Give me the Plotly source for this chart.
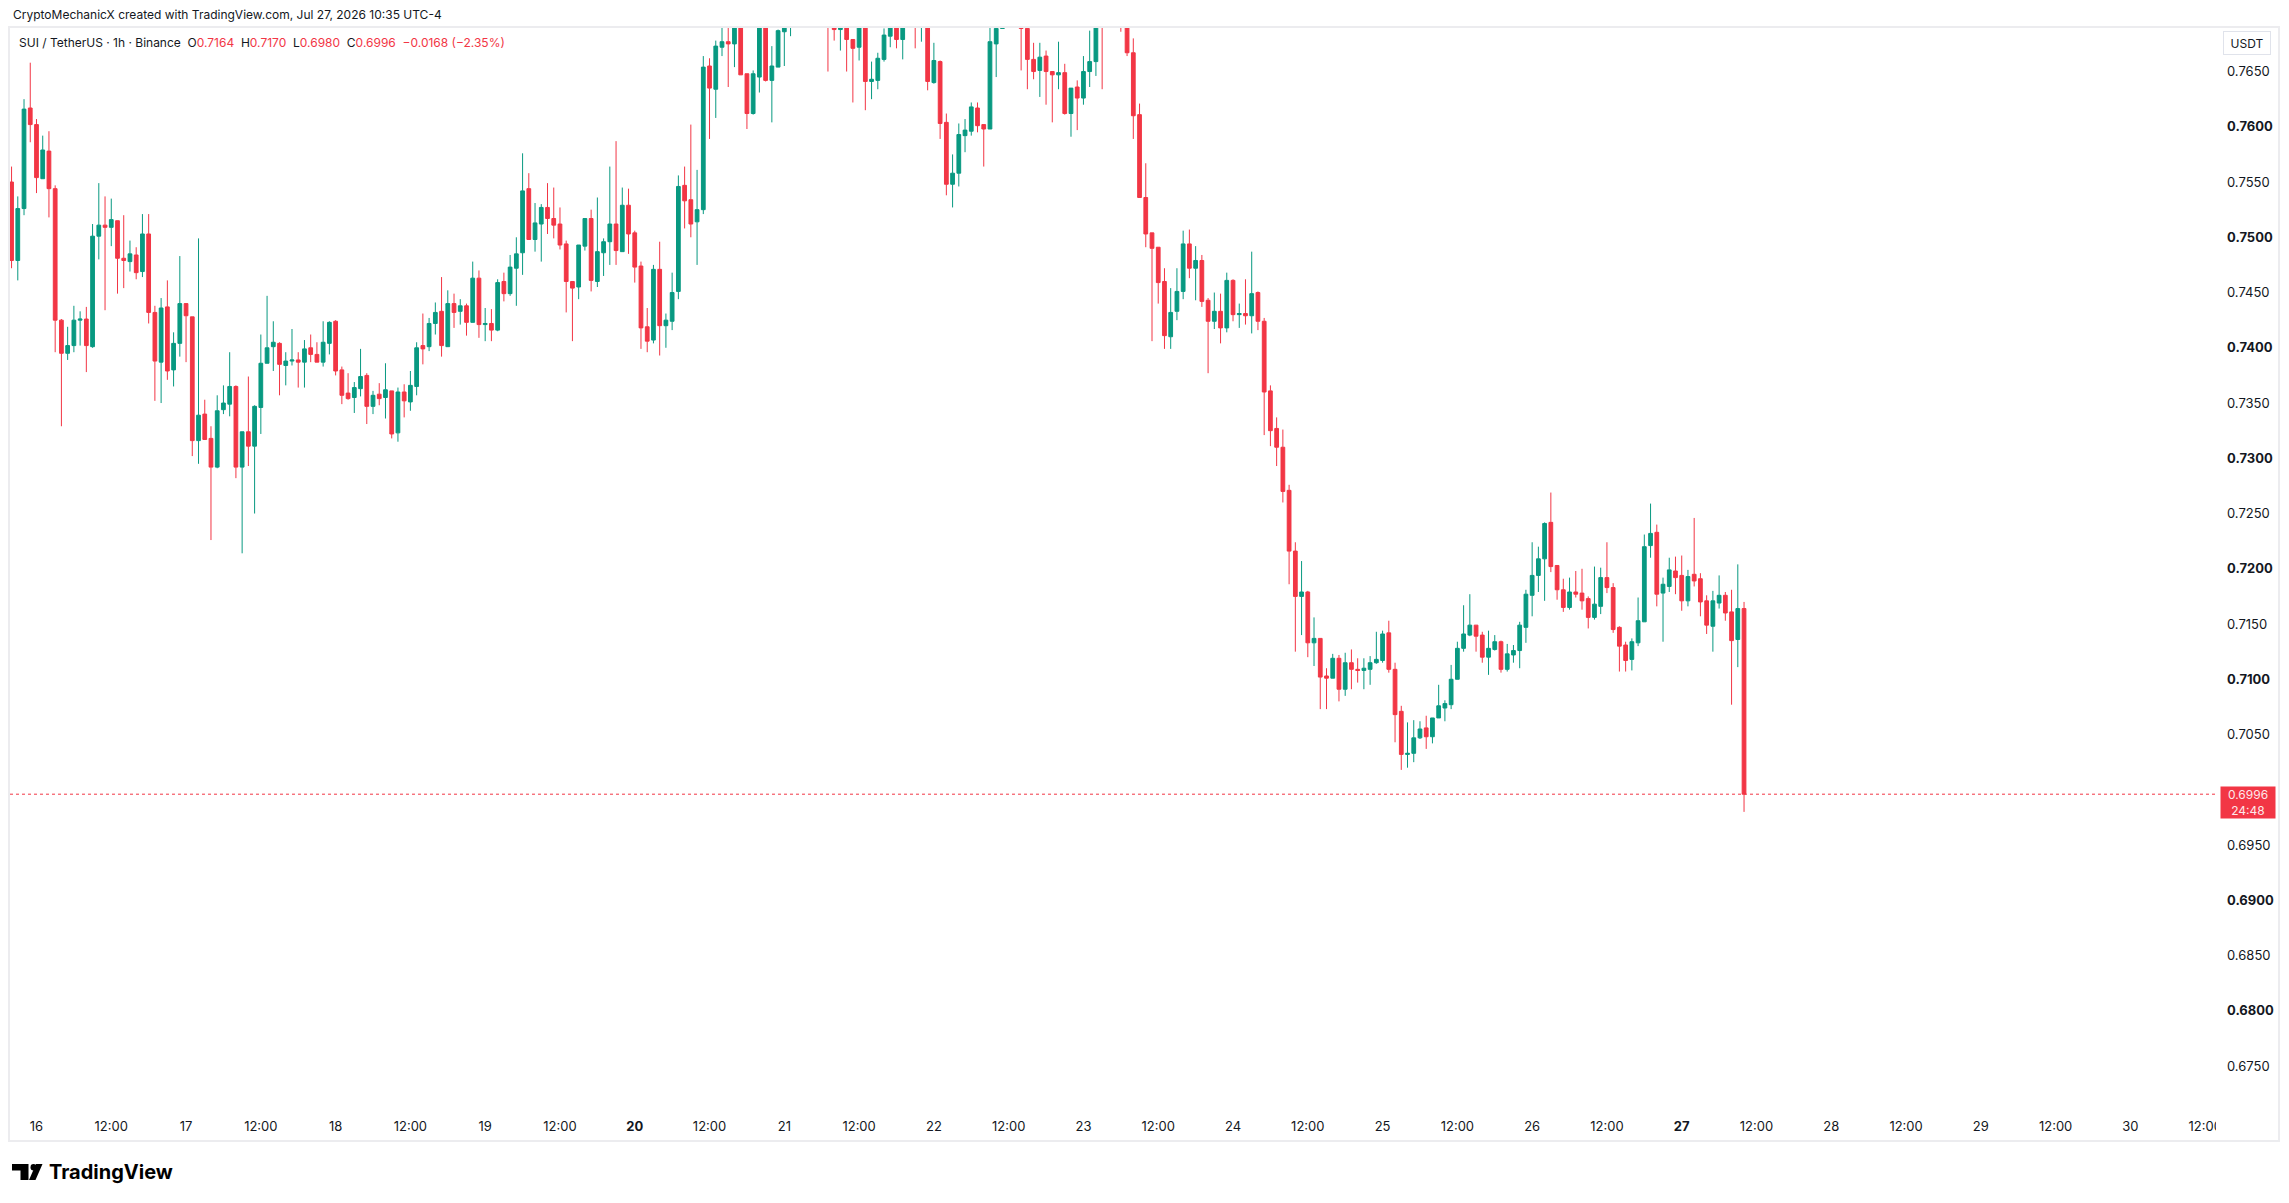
import pandas as pd
import plotly.graph_objects as go

# SUI / TetherUS, 1h candles, Binance
first_bar = "2026-07-15 20:00"

open_ = [
    0.7550, 0.7479, 0.7526, 0.7617, 0.7602, 0.7553, 0.7578, 0.7544, 0.7425, 0.7395,
    0.7402, 0.7425, 0.7426, 0.7401, 0.7501, 0.7511, 0.7509, 0.7515, 0.7481, 0.7478,
    0.7484, 0.7469, 0.7503, 0.7432, 0.7387, 0.7437, 0.7380, 0.7404, 0.7440, 0.7428,
    0.7316, 0.7340, 0.7318, 0.7292, 0.7344, 0.7349, 0.7365, 0.7292, 0.7324, 0.7311,
    0.7346, 0.7386, 0.7401, 0.7404, 0.7384, 0.7388, 0.7389, 0.7387, 0.7400, 0.7394,
    0.7387, 0.7404, 0.7424, 0.7380, 0.7359, 0.7355, 0.7363, 0.7375, 0.7347, 0.7358,
    0.7355, 0.7361, 0.7323, 0.7360, 0.7351, 0.7365, 0.7402, 0.7401, 0.7422, 0.7433,
    0.7401, 0.7440, 0.7433, 0.7438, 0.7423, 0.7463, 0.7421, 0.7422, 0.7416, 0.7460,
    0.7449, 0.7472, 0.7486, 0.7544, 0.7498, 0.7512, 0.7527, 0.7517, 0.7512, 0.7494,
    0.7460, 0.7455, 0.7492, 0.7517, 0.7460, 0.7486, 0.7496, 0.7512, 0.7487, 0.7529,
    0.7504, 0.7474, 0.7419, 0.7407, 0.7471, 0.7420, 0.7424, 0.7451, 0.7547, 0.7534,
    0.7514, 0.7525, 0.7655, 0.7634, 0.7672, 0.7677, 0.7675, 0.7698, 0.7648, 0.7612,
    0.7645, 0.7702, 0.7642, 0.7654, 0.7686, 0.7695, 0.7705, 0.7715, 0.7708, 0.7712,
    0.7704, 0.7710, 0.7694, 0.7688, 0.7692, 0.7679, 0.7672, 0.7694, 0.7641, 0.7642,
    0.7661, 0.7682, 0.7692, 0.7679, 0.7694, 0.7705, 0.7691, 0.7700, 0.7640, 0.7659,
    0.7604, 0.7548, 0.7558, 0.7592, 0.7596, 0.7617, 0.7602, 0.7598, 0.7675, 0.7689,
    0.7698, 0.7708, 0.7702, 0.7689, 0.7661, 0.7651, 0.7664, 0.7650, 0.7647, 0.7649,
    0.7612, 0.7636, 0.7626, 0.7650, 0.7659, 0.7705, 0.7694, 0.7712, 0.7706, 0.7698,
    0.7667, 0.7611, 0.7536, 0.7504, 0.7491, 0.7460, 0.7410, 0.7433, 0.7451, 0.7494,
    0.7472, 0.7479, 0.7443, 0.7424, 0.7433, 0.7418, 0.7461, 0.7430, 0.7431, 0.7429,
    0.7450, 0.7424, 0.7361, 0.7327, 0.7310, 0.7271, 0.7216, 0.7175, 0.7179, 0.7133,
    0.7137, 0.7103, 0.7101, 0.7119, 0.7091, 0.7115, 0.7109, 0.7108, 0.7109, 0.7115,
    0.7117, 0.7142, 0.7109, 0.7071, 0.7032, 0.7033, 0.7047, 0.7056, 0.7048, 0.7065,
    0.7074, 0.7077, 0.7100, 0.7128, 0.7140, 0.7149, 0.7140, 0.7120, 0.7127, 0.7134,
    0.7109, 0.7122, 0.7126, 0.7147, 0.7176, 0.7194, 0.7209, 0.7242, 0.7203, 0.7181,
    0.7165, 0.7179, 0.7178, 0.7173, 0.7156, 0.7166, 0.7192, 0.7183, 0.7147, 0.7131,
    0.7118, 0.7133, 0.7152, 0.7221, 0.7233, 0.7178, 0.7184, 0.7198, 0.7194, 0.7171,
    0.7195, 0.7191, 0.7171, 0.7148, 0.7169, 0.7176, 0.7161, 0.7136, 0.7164,
]
high = [
    0.7564, 0.7537, 0.7625, 0.7658, 0.7607, 0.7592, 0.7596, 0.7547, 0.7426, 0.7419,
    0.7438, 0.7433, 0.7437, 0.7512, 0.7549, 0.7537, 0.7535, 0.7515, 0.7520, 0.7497,
    0.7491, 0.7521, 0.7521, 0.7438, 0.7445, 0.7461, 0.7414, 0.7483, 0.7440, 0.7428,
    0.7499, 0.7353, 0.7329, 0.7357, 0.7366, 0.7396, 0.7366, 0.7324, 0.7374, 0.7348,
    0.7412, 0.7447, 0.7424, 0.7405, 0.7396, 0.7417, 0.7396, 0.7407, 0.7412, 0.7405,
    0.7424, 0.7424, 0.7425, 0.7383, 0.7377, 0.7369, 0.7399, 0.7377, 0.7361, 0.7368,
    0.7386, 0.7361, 0.7364, 0.7367, 0.7379, 0.7405, 0.7431, 0.7427, 0.7441, 0.7464,
    0.7452, 0.7449, 0.7444, 0.7440, 0.7478, 0.7470, 0.7436, 0.7435, 0.7462, 0.7468,
    0.7484, 0.7500, 0.7576, 0.7558, 0.7531, 0.7530, 0.7549, 0.7545, 0.7527, 0.7497,
    0.7460, 0.7493, 0.7517, 0.7525, 0.7536, 0.7499, 0.7564, 0.7587, 0.7545, 0.7544,
    0.7506, 0.7478, 0.7436, 0.7475, 0.7496, 0.7431, 0.7468, 0.7556, 0.7564, 0.7602,
    0.7561, 0.7664, 0.7662, 0.7678, 0.7694, 0.7691, 0.7703, 0.7705, 0.7648, 0.7651,
    0.7708, 0.7705, 0.7673, 0.7688, 0.7700, 0.7712, 0.7722, 0.7730, 0.7718, 0.7725,
    0.7716, 0.7718, 0.7697, 0.7699, 0.7700, 0.7679, 0.7702, 0.7700, 0.7659, 0.7667,
    0.7689, 0.7700, 0.7698, 0.7698, 0.7712, 0.7710, 0.7706, 0.7704, 0.7676, 0.7660,
    0.7612, 0.7575, 0.7603, 0.7607, 0.7622, 0.7622, 0.7602, 0.7692, 0.7695, 0.7705,
    0.7715, 0.7720, 0.7708, 0.7692, 0.7676, 0.7676, 0.7669, 0.7650, 0.7677, 0.7657,
    0.7635, 0.7642, 0.7664, 0.7687, 0.7702, 0.7712, 0.7718, 0.7725, 0.7714, 0.7702,
    0.7680, 0.7621, 0.7567, 0.7504, 0.7491, 0.7472, 0.7454, 0.7472, 0.7506, 0.7507,
    0.7492, 0.7484, 0.7445, 0.7450, 0.7449, 0.7468, 0.7462, 0.7440, 0.7462, 0.7487,
    0.7451, 0.7427, 0.7366, 0.7337, 0.7326, 0.7276, 0.7224, 0.7207, 0.7180, 0.7156,
    0.7137, 0.7110, 0.7123, 0.7122, 0.7124, 0.7127, 0.7119, 0.7119, 0.7121, 0.7143,
    0.7144, 0.7153, 0.7115, 0.7076, 0.7061, 0.7063, 0.7062, 0.7067, 0.7065, 0.7095,
    0.7081, 0.7113, 0.7134, 0.7167, 0.7177, 0.7149, 0.7143, 0.7144, 0.7140, 0.7135,
    0.7132, 0.7131, 0.7152, 0.7181, 0.7224, 0.7220, 0.7242, 0.7269, 0.7203, 0.7191,
    0.7192, 0.7198, 0.7200, 0.7175, 0.7202, 0.7201, 0.7224, 0.7187, 0.7148, 0.7134,
    0.7137, 0.7174, 0.7231, 0.7259, 0.7240, 0.7192, 0.7210, 0.7211, 0.7212, 0.7199,
    0.7246, 0.7196, 0.7176, 0.7180, 0.7194, 0.7179, 0.7181, 0.7204, 0.7170,
]
low = [
    0.7472, 0.7461, 0.7520, 0.7586, 0.7540, 0.7553, 0.7518, 0.7396, 0.7329, 0.7389,
    0.7396, 0.7402, 0.7378, 0.7400, 0.7480, 0.7434, 0.7492, 0.7449, 0.7454, 0.7469,
    0.7462, 0.7464, 0.7422, 0.7352, 0.7350, 0.7371, 0.7365, 0.7392, 0.7387, 0.7302,
    0.7295, 0.7317, 0.7226, 0.7291, 0.7340, 0.7338, 0.7282, 0.7214, 0.7293, 0.7250,
    0.7322, 0.7386, 0.7379, 0.7357, 0.7366, 0.7384, 0.7364, 0.7364, 0.7387, 0.7387,
    0.7383, 0.7394, 0.7375, 0.7349, 0.7353, 0.7341, 0.7356, 0.7331, 0.7340, 0.7348,
    0.7336, 0.7318, 0.7315, 0.7337, 0.7343, 0.7357, 0.7385, 0.7397, 0.7412, 0.7392,
    0.7401, 0.7418, 0.7421, 0.7411, 0.7423, 0.7409, 0.7406, 0.7406, 0.7415, 0.7442,
    0.7447, 0.7438, 0.7466, 0.7498, 0.7487, 0.7478, 0.7503, 0.7499, 0.7489, 0.7432,
    0.7406, 0.7444, 0.7488, 0.7451, 0.7455, 0.7465, 0.7475, 0.7475, 0.7487, 0.7485,
    0.7459, 0.7399, 0.7396, 0.7404, 0.7393, 0.7400, 0.7416, 0.7444, 0.7508, 0.7500,
    0.7475, 0.7521, 0.7589, 0.7608, 0.7664, 0.7636, 0.7654, 0.7647, 0.7598, 0.7611,
    0.7631, 0.7641, 0.7604, 0.7654, 0.7655, 0.7682, 0.7698, 0.7702, 0.7695, 0.7701,
    0.7694, 0.7650, 0.7678, 0.7669, 0.7650, 0.7622, 0.7660, 0.7615, 0.7625, 0.7634,
    0.7659, 0.7672, 0.7671, 0.7661, 0.7692, 0.7671, 0.7677, 0.7633, 0.7639, 0.7589,
    0.7538, 0.7527, 0.7546, 0.7577, 0.7592, 0.7595, 0.7564, 0.7598, 0.7645, 0.7689,
    0.7692, 0.7695, 0.7651, 0.7634, 0.7643, 0.7627, 0.7620, 0.7604, 0.7634, 0.7611,
    0.7591, 0.7597, 0.7620, 0.7636, 0.7646, 0.7634, 0.7692, 0.7700, 0.7686, 0.7664,
    0.7589, 0.7536, 0.7491, 0.7406, 0.7440, 0.7399, 0.7399, 0.7425, 0.7444, 0.7463,
    0.7443, 0.7437, 0.7377, 0.7417, 0.7404, 0.7414, 0.7424, 0.7418, 0.7421, 0.7413,
    0.7416, 0.7321, 0.7311, 0.7293, 0.7260, 0.7186, 0.7125, 0.7140, 0.7120, 0.7112,
    0.7073, 0.7073, 0.7101, 0.7080, 0.7085, 0.7091, 0.7097, 0.7091, 0.7095, 0.7114,
    0.7115, 0.7106, 0.7043, 0.7018, 0.7020, 0.7025, 0.7046, 0.7037, 0.7042, 0.7065,
    0.7062, 0.7073, 0.7100, 0.7125, 0.7139, 0.7125, 0.7115, 0.7104, 0.7126, 0.7106,
    0.7107, 0.7115, 0.7110, 0.7133, 0.7157, 0.7179, 0.7171, 0.7197, 0.7172, 0.7161,
    0.7163, 0.7174, 0.7163, 0.7146, 0.7154, 0.7159, 0.7178, 0.7142, 0.7107, 0.7107,
    0.7108, 0.7130, 0.7152, 0.7210, 0.7166, 0.7134, 0.7179, 0.7177, 0.7162, 0.7166,
    0.7184, 0.7157, 0.7141, 0.7125, 0.7164, 0.7153, 0.7077, 0.7111, 0.6980,
]
close = [
    0.7479, 0.7526, 0.7616, 0.7602, 0.7554, 0.7579, 0.7544, 0.7425, 0.7395, 0.7402,
    0.7425, 0.7426, 0.7402, 0.7501, 0.7511, 0.7509, 0.7516, 0.7481, 0.7479, 0.7485,
    0.7468, 0.7503, 0.7432, 0.7388, 0.7436, 0.7379, 0.7404, 0.7440, 0.7429, 0.7316,
    0.7339, 0.7317, 0.7292, 0.7343, 0.7350, 0.7365, 0.7292, 0.7324, 0.7311, 0.7347,
    0.7386, 0.7400, 0.7405, 0.7385, 0.7388, 0.7389, 0.7387, 0.7399, 0.7394, 0.7387,
    0.7405, 0.7423, 0.7379, 0.7357, 0.7354, 0.7364, 0.7374, 0.7347, 0.7357, 0.7354,
    0.7362, 0.7322, 0.7360, 0.7352, 0.7366, 0.7400, 0.7399, 0.7422, 0.7432, 0.7402,
    0.7440, 0.7432, 0.7438, 0.7423, 0.7463, 0.7421, 0.7422, 0.7416, 0.7459, 0.7449,
    0.7473, 0.7485, 0.7542, 0.7498, 0.7513, 0.7527, 0.7517, 0.7511, 0.7493, 0.7460,
    0.7454, 0.7493, 0.7517, 0.7461, 0.7487, 0.7496, 0.7512, 0.7488, 0.7529, 0.7503,
    0.7473, 0.7418, 0.7406, 0.7471, 0.7420, 0.7425, 0.7450, 0.7546, 0.7533, 0.7512,
    0.7525, 0.7654, 0.7635, 0.7673, 0.7677, 0.7675, 0.7698, 0.7647, 0.7612, 0.7648,
    0.7702, 0.7642, 0.7655, 0.7687, 0.7695, 0.7705, 0.7715, 0.7708, 0.7712, 0.7704,
    0.7710, 0.7696, 0.7688, 0.7692, 0.7679, 0.7671, 0.7694, 0.7641, 0.7643, 0.7662,
    0.7683, 0.7692, 0.7679, 0.7693, 0.7705, 0.7694, 0.7700, 0.7641, 0.7660, 0.7603,
    0.7548, 0.7558, 0.7593, 0.7597, 0.7618, 0.7601, 0.7598, 0.7677, 0.7689, 0.7698,
    0.7708, 0.7702, 0.7689, 0.7661, 0.7650, 0.7663, 0.7650, 0.7647, 0.7649, 0.7612,
    0.7635, 0.7626, 0.7650, 0.7659, 0.7695, 0.7693, 0.7712, 0.7706, 0.7698, 0.7667,
    0.7610, 0.7536, 0.7503, 0.7490, 0.7459, 0.7411, 0.7432, 0.7451, 0.7494, 0.7472,
    0.7479, 0.7442, 0.7424, 0.7433, 0.7418, 0.7461, 0.7430, 0.7431, 0.7429, 0.7449,
    0.7424, 0.7360, 0.7325, 0.7310, 0.7270, 0.7216, 0.7175, 0.7179, 0.7133, 0.7137,
    0.7102, 0.7101, 0.7119, 0.7091, 0.7115, 0.7109, 0.7108, 0.7110, 0.7115, 0.7118,
    0.7141, 0.7109, 0.7068, 0.7032, 0.7033, 0.7047, 0.7055, 0.7048, 0.7065, 0.7076,
    0.7078, 0.7100, 0.7128, 0.7141, 0.7149, 0.7139, 0.7120, 0.7128, 0.7134, 0.7109,
    0.7123, 0.7126, 0.7149, 0.7177, 0.7194, 0.7209, 0.7241, 0.7202, 0.7181, 0.7165,
    0.7179, 0.7177, 0.7171, 0.7156, 0.7168, 0.7192, 0.7183, 0.7145, 0.7130, 0.7117,
    0.7134, 0.7153, 0.7220, 0.7232, 0.7177, 0.7186, 0.7199, 0.7192, 0.7171, 0.7193,
    0.7189, 0.7170, 0.7149, 0.7171, 0.7176, 0.7160, 0.7135, 0.7164, 0.6996,
]

# axis labels as TradingView prints them
time_ticks = [
    "2026-07-16 00:00", "2026-07-16 12:00", "2026-07-17 00:00", "2026-07-17 12:00",
    "2026-07-18 00:00", "2026-07-18 12:00", "2026-07-19 00:00", "2026-07-19 12:00",
    "2026-07-20 00:00", "2026-07-20 12:00", "2026-07-21 00:00", "2026-07-21 12:00",
    "2026-07-22 00:00", "2026-07-22 12:00", "2026-07-23 00:00", "2026-07-23 12:00",
    "2026-07-24 00:00", "2026-07-24 12:00", "2026-07-25 00:00", "2026-07-25 12:00",
    "2026-07-26 00:00", "2026-07-26 12:00", "2026-07-27 00:00", "2026-07-27 12:00",
    "2026-07-28 00:00", "2026-07-28 12:00", "2026-07-29 00:00", "2026-07-29 12:00",
    "2026-07-30 00:00", "2026-07-30 12:00",
]
time_labels = [
    "16", "12:00", "17", "12:00", "18", "12:00", "19", "12:00", "<b>20</b>", "12:00",
    "21", "12:00", "22", "12:00", "23", "12:00", "24", "12:00", "25", "12:00",
    "26", "12:00", "<b>27</b>", "12:00", "28", "12:00", "29", "12:00", "30", "12:00",
]
price_ticks = [0.6750, 0.6800, 0.6850, 0.6900, 0.6950, 0.7050, 0.7100, 0.7150, 0.7200,
               0.7250, 0.7300, 0.7350, 0.7400, 0.7450, 0.7500, 0.7550, 0.7600, 0.7650]

times = pd.date_range(first_bar, periods=len(close), freq="h")

UP = "#089981"
DOWN = "#F23645"
TEXT = "#131722"
FONT = "Inter"

# the page body keeps its default 8px margin, so the figure is 8px smaller
PAGE_OFF = 8
W, H = 2289 - PAGE_OFF, 1203 - PAGE_OFF
ML, MR, MT, MB = 2, 73, 20, 91


def px(x):
    # page x pixel -> paper fraction
    return (x - PAGE_OFF - ML) / (W - ML - MR)


def py(y):
    # page y pixel -> paper fraction
    return (H - MB - (y - PAGE_OFF)) / (H - MT - MB)


fig = go.Figure()
fig.add_trace(go.Candlestick(
    x=times, open=open_, high=high, low=low, close=close,
    increasing=dict(line=dict(color=UP, width=1), fillcolor=UP),
    decreasing=dict(line=dict(color=DOWN, width=1), fillcolor=DOWN),
    whiskerwidth=0, showlegend=False, hoverinfo="skip",
))

last_o, last_h, last_l, last_c = open_[-1], high[-1], low[-1], close[-1]
chg = last_c - close[-2]
pct = chg / close[-2] * 100

legend_txt = (
    f"SUI / TetherUS · 1h · Binance&nbsp;&nbsp;"
    f"O<span style='color:{DOWN}'>{last_o:.4f}</span>&nbsp;&nbsp;"
    f"H<span style='color:{DOWN}'>{last_h:.4f}</span>&nbsp;&nbsp;"
    f"L<span style='color:{DOWN}'>{last_l:.4f}</span>&nbsp;&nbsp;"
    f"C<span style='color:{DOWN}'>{last_c:.4f}</span>&nbsp;&nbsp;"
    f"<span style='color:{DOWN}'>{chg:.4f} ({pct:.2f}%)</span>"
).replace("-", "\u2212")

annotations = [
    dict(text="CryptoMechanicX created with TradingView.com, Jul 27, 2026 10:35 UTC-4",
         xref="paper", yref="paper", x=px(11), y=py(15),
         xanchor="left", yanchor="middle", showarrow=False,
         font=dict(size=12, color=TEXT)),
    dict(text=legend_txt, xref="paper", yref="paper", x=px(17), y=py(43),
         xanchor="left", yanchor="middle", showarrow=False,
         font=dict(size=12, color=TEXT)),
    dict(text="USDT", xref="paper", yref="paper", x=px(2247), y=py(43),
         xanchor="center", yanchor="middle", showarrow=False,
         font=dict(size=12, color=TEXT), bgcolor="white",
         bordercolor="#e0e3eb", borderwidth=1, borderpad=3, width=40, height=16),
    dict(text=f"{last_c:.4f}<br>24:48", xref="paper", yref="y",
         x=px(2220), y=last_c, xanchor="left", yanchor="top", yshift=8,
         showarrow=False, font=dict(size=12, color="#fde8ea"), bgcolor=DOWN,
         borderpad=2, width=50, height=27, align="center"),
    dict(text="<b>TradingView</b>", xref="paper", yref="paper", x=px(47), y=py(1172),
         xanchor="left", yanchor="middle", showarrow=False,
         font=dict(size=20, color="#000000")),
]


def path(points):
    return "M " + " L ".join(f"{px(a)},{py(b)}" for a, b in points) + " Z"


shapes = [
    # snapshot frame
    dict(type="rect", xref="paper", yref="paper", x0=px(9), x1=px(2279),
         y0=py(1141), y1=py(27), line=dict(color="#ececef", width=2),
         fillcolor="rgba(0,0,0,0)", layer="below"),
    # last price line
    dict(type="line", xref="paper", yref="y", x0=0, x1=1, y0=last_c, y1=last_c,
         line=dict(color=DOWN, width=1, dash="dot")),
    # time scale stops at the price scale
    dict(type="rect", xref="paper", yref="paper", x0=1.0, x1=px(2277),
         y0=py(1139), y1=py(1113), line=dict(width=0), fillcolor="white",
         layer="above"),
    # TradingView logo mark
    dict(type="path", xref="paper", yref="paper", layer="above",
         path=path([(12, 1164), (28.5, 1164), (28.5, 1180), (20.5, 1180),
                    (20.5, 1170.5), (12, 1170.5)]),
         fillcolor="#000000", line=dict(width=0)),
    dict(type="circle", xref="paper", yref="paper", layer="above",
         x0=px(30.5), x1=px(36.5), y0=py(1170.5), y1=py(1164),
         fillcolor="#000000", line=dict(width=0)),
    dict(type="path", xref="paper", yref="paper", layer="above",
         path=path([(36, 1164), (42.5, 1164), (35.5, 1180), (29, 1180)]),
         fillcolor="#000000", line=dict(width=0)),
]

fig.update_layout(
    width=W, height=H,
    margin=dict(l=ML, r=MR, t=MT, b=MB),
    paper_bgcolor="white", plot_bgcolor="white",
    font=dict(family=FONT, color=TEXT),
    showlegend=False,
    boxgap=0.4, boxgroupgap=0,
    annotations=annotations,
    shapes=shapes,
    xaxis=dict(
        type="date", rangeslider=dict(visible=False),
        range=["2026-07-15 19:45", "2026-07-30 13:44"],
        tickvals=time_ticks, ticktext=time_labels, tickangle=0,
        showgrid=False, zeroline=False, showline=False, ticks="",
        tickfont=dict(size=13, color=TEXT), ticklabelstandoff=5,
    ),
    yaxis=dict(
        side="right", range=[0.67084, 0.76894],
        tickvals=price_ticks,
        ticktext=[f"<b>{v:.4f}</b>" if round(v * 10000) % 100 == 0 else f"{v:.4f}"
                  for v in price_ticks],
        showgrid=False, zeroline=False, showline=False, ticks="",
        tickfont=dict(size=13, color=TEXT), ticklabelstandoff=10,
    ),
)

fig.write_html("out.html")
